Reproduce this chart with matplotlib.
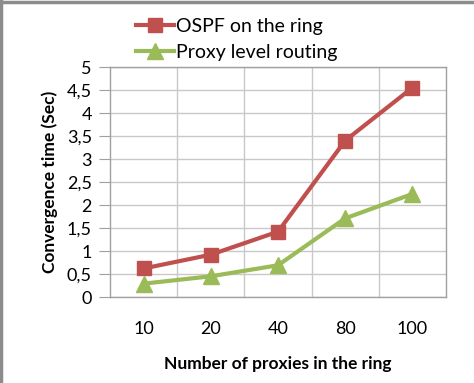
import matplotlib.pyplot as plt
from matplotlib.lines import Line2D

categories = ["10", "20", "40", "80", "100"]
ospf = [0.62, 0.92, 1.42, 3.40, 4.55]
proxy = [0.29, 0.45, 0.69, 1.71, 2.24]
yticks = [0, 0.5, 1, 1.5, 2, 2.5, 3, 3.5, 4, 4.5, 5]
ytick_labels = ["0", "0,5", "1", "1,5", "2", "2,5", "3", "3,5", "4", "4,5", "5"]

plt.rcParams['font.family'] = ['Lato', 'DejaVu Sans']

fig = plt.figure(figsize=(4.74, 3.83), dpi=100)
ax = fig.add_axes([110 / 474, 1 - 297 / 383, 336 / 474, 230 / 383])

x = list(range(len(categories)))
red = '#C0504D'
green = '#9BBB59'
ax.plot(x, ospf, color=red, lw=3, marker='s', markersize=10, label='OSPF on the ring')
ax.plot(x, proxy, color=green, lw=3, marker='^', markersize=11, label='Proxy level routing')

ax.set_xlim(-0.5, len(categories) - 0.5)
ax.set_ylim(0, 5)
ax.set_yticks(yticks)
ax.set_yticklabels(ytick_labels)
ax.set_xticks(x)
ax.set_xticklabels(categories)
ax.set_xticks([i + 0.5 for i in x[:-1]], minor=True)

ax.grid(True, axis='y', color='#C8C8C8', lw=1)
ax.grid(True, axis='x', which='minor', color='#C8C8C8', lw=1)
ax.set_axisbelow(True)
for s in ax.spines.values():
    s.set_color('#A0A0A0')
    s.set_linewidth(1)

ax.tick_params(axis='y', which='major', length=8, color='#A0A0A0', labelsize=13, pad=5)
ax.tick_params(axis='x', which='major', length=0, labelsize=13, pad=17)
ax.tick_params(axis='x', which='minor', length=0)

ax.set_xlabel('Number of proxies in the ring', fontsize=12.5, fontweight='bold', labelpad=14)
ax.set_ylabel('Convergence time (Sec)', fontsize=12.5, fontweight='bold', labelpad=6)

fig.legend(loc='upper left', bbox_to_anchor=(118 / 474, 1 - 0.5 / 383), frameon=False,
           fontsize=14, handlelength=2.0, handletextpad=0.1, labelspacing=0.45)

# outer frame (only left and top visible in the crop)
fig.add_artist(Line2D([0.003, 0.003], [0, 1], transform=fig.transFigure, color='#8C8C8C', lw=2.5))
fig.add_artist(Line2D([0, 1], [0.996, 0.996], transform=fig.transFigure, color='#8C8C8C', lw=2.5))

fig.savefig('out.png', dpi=100)
